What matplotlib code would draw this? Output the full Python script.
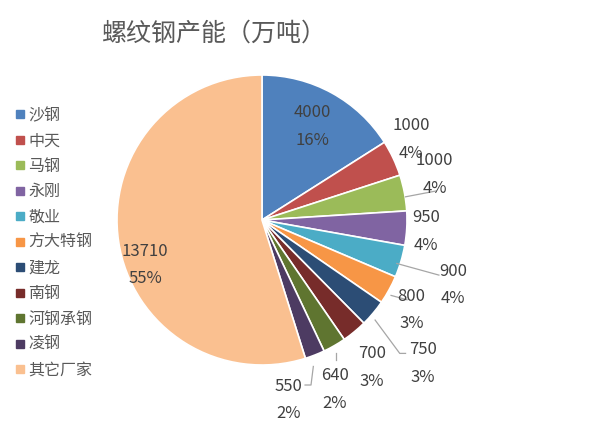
import matplotlib.pyplot as plt
import numpy as np
from matplotlib.lines import Line2D

plt.rcParams['font.family'] = ['Noto Sans CJK SC', 'DejaVu Sans']

names = ['沙钢', '中天', '马钢', '永刚', '敬业', '方大特钢', '建龙', '南钢', '河钢承钢', '凌钢', '其它厂家']
values = [4000, 1000, 1000, 950, 900, 800, 750, 700, 640, 550, 13710]
percents = ['16%', '4%', '4%', '4%', '4%', '3%', '3%', '3%', '2%', '2%', '55%']
colors = ['#4F81BD', '#C0504D', '#9BBB59', '#8064A2', '#4BACC6', '#F79646',
          '#2C4D75', '#772C2A', '#5F7530', '#4D3B62', '#FAC090']

# label centres, in units of the pie radius
label_xy = [(0.345, 0.645), (1.03, 0.555), (1.19, 0.314), (1.13, -0.08), (1.317, -0.45),
            (1.03, -0.62), (1.11, -0.99), (0.76, -1.017), (0.503, -1.17), (0.18, -1.24),
            (-0.807, -0.31)]
# leader line: points in radius units, None = no line
leaders = [None, None,
           [(0.99, 0.16), (1.20, 0.20)],
           None,
           [(0.93, -0.30), (1.22, -0.38)],
           [(0.89, -0.52), (1.00, -0.55)],
           [(0.78, -0.69), (0.95, -0.92), (0.99, -0.92)],
           None,
           [(0.51, -0.92), (0.51, -0.966)],
           [(0.354, -1.01), (0.338, -1.138), (0.297, -1.138)],
           None]

fig = plt.figure(figsize=(5.95, 4.26), dpi=100)
ax = fig.add_axes([0, 0, 1, 1])

r_px = 145.0
cx, cy = 262.0, 220.0
wedges, _ = ax.pie(values, colors=colors, startangle=90, counterclock=False,
                   radius=1.0, wedgeprops=dict(edgecolor='white', linewidth=1.2))

ax.set_xlim(-cx / r_px, (595 - cx) / r_px)
ax.set_ylim(-(426 - cy) / r_px, cy / r_px)
ax.set_aspect('equal', adjustable='box')
ax.axis('off')

for i in range(len(values)):
    x, y = label_xy[i]
    ax.text(x, y, f'{values[i]}\n{percents[i]}', ha='center', va='center',
            fontsize=12, color='#404040', linespacing=1.8)
    if leaders[i] is not None:
        pts = np.array(leaders[i])
        ax.plot(pts[:, 0], pts[:, 1], color='#A6A6A6', lw=0.9)

fig.text(0.361, 0.921, '螺纹钢产能（万吨）', ha='center', va='center',
         fontsize=18, color='#595959')

handles = [Line2D([], [], marker='s', linestyle='none', markersize=6,
                  markerfacecolor=c, markeredgecolor=c) for c in colors]
leg = ax.legend(handles, names, loc='upper left', bbox_to_anchor=(0.025, 0.749),
                bbox_transform=fig.transFigure, frameon=False, fontsize=11.5,
                labelspacing=0.53, handlelength=0.6, handletextpad=0.25,
                borderaxespad=0, borderpad=0)
for t in leg.get_texts():
    t.set_color('#595959')

fig.savefig('out.png', dpi=100)
